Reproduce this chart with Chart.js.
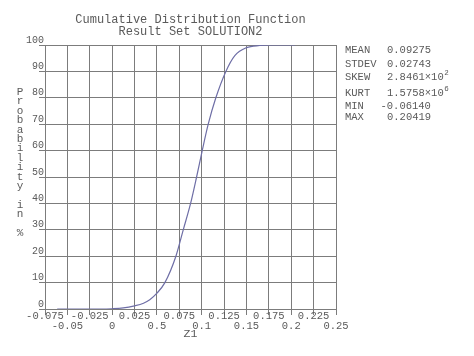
<!DOCTYPE html>
<html>
<head>
<meta charset="utf-8">
<script src="https://cdn.jsdelivr.net/npm/chart.js@4/dist/chart.umd.min.js"></script>
<style>
html,body{margin:0;padding:0;background:#fff;}
#wrap{width:474px;height:356px;position:relative;}
</style>
</head>
<body>
<div id="wrap"><canvas id="c" width="474" height="356"></canvas></div>
<script>
// ---- data ----
const zValues = [-0.0614, -0.0136, 0.0, 0.0125, 0.025, 0.035, 0.042, 0.05, 0.0589, 0.0712, 0.0794, 0.0876, 0.0943, 0.1006, 0.1073, 0.1158, 0.127, 0.137, 0.150, 0.165, 0.178, 0.2042];
const probValues = [0, 0, 0.1, 0.4, 1.2, 2.2, 3.5, 6.0, 10, 20, 30, 40, 50, 60, 70, 80, 90, 96, 99, 99.8, 100, 100];
const xTickLabels = ['-0.075','-0.05','-0.025','0','0.025','0.5','0.075','0.1','0.125','0.15','0.175','0.2','0.225','0.25'];
const yTickLabels = ['0','10','20','30','40','50','60','70','80','90','100'];
const titleLines = ['Cumulative Distribution Function', 'Result Set SOLUTION2'];
const xAxisTitle = 'Z1';
const yAxisTitle = 'Probability in %';
const statNames = ['MEAN','STDEV','SKEW','KURT','MIN','MAX'];
const statValues = ['0.09275','0.02743','2.8461×10','1.5758×10','-0.06140','0.20419'];
const statExponents = ['','','2','6','',''];

const FONT = '"Liberation Mono", "DejaVu Sans Mono", monospace';
const TXT = '#5a5a5a';
const GRID = '#7c7c7c';

const textPlugin = {
  id: 'texts',
  afterDraw(chart) {
    const ctx = chart.ctx;
    const ca = chart.chartArea;
    const cx = (ca.left + ca.right) / 2;
    ctx.save();
    ctx.fillStyle = TXT;
    ctx.textBaseline = 'middle';
    // title
    ctx.font = '12px ' + FONT;
    ctx.textAlign = 'center';
    ctx.fillText(titleLines[0], cx, 20);
    ctx.fillText(titleLines[1], cx, 31.5);
    // x axis title
    ctx.font = '11.5px ' + FONT;
    ctx.fillText(xAxisTitle, cx, 334);
    // y axis title, stacked upright
    ctx.font = '11px ' + FONT;
    const chars = Array.from(yAxisTitle);
    chars.forEach((ch, i) => ctx.fillText(ch, 20, 92 + i * 9.4));
    // stats
    ctx.textAlign = 'left';
    const rowY = [50, 64, 77, 93, 106, 117];
    statNames.forEach((n, i) => {
      ctx.font = '10.5px ' + FONT;
      ctx.fillText(n, 345, rowY[i]);
      const v = statValues[i];
      const vx = v.startsWith('-') ? 380.5 : 387;
      ctx.fillText(v, vx, rowY[i]);
      if (statExponents[i]) {
        const w = ctx.measureText(v).width;
        ctx.font = '7.5px ' + FONT;
        ctx.fillText(statExponents[i], vx + w + 0.5, rowY[i] - 4);
      }
    });
    ctx.restore();
  }
};

new Chart(document.getElementById('c'), {
  type: 'line',
  data: {
    datasets: [{
      data: zValues.map((z, i) => ({x: z, y: probValues[i]})),
      borderColor: '#6e6ea6',
      borderWidth: 1.2,
      pointRadius: 0,
      fill: false,
      cubicInterpolationMode: 'monotone'
    }]
  },
  options: {
    responsive: false,
    animation: false,
    layout: {padding: {left: 0, right: 138, top: 45, bottom: 0}},
    plugins: {legend: {display: false}, tooltip: {enabled: false}, title: {display: false}},
    scales: {
      x: {
        type: 'linear',
        min: -0.075,
        max: 0.25,
        afterFit(s) { s.height = 47; },
        afterBuildTicks(s) {
          s.ticks = xTickLabels.map((t, i) => ({value: -0.075 + i * 0.025}));
        },
        grid: {color: GRID, lineWidth: 1, tickLength: 6, drawTicks: true, tickColor: GRID},
        border: {color: GRID, width: 1},
        ticks: {
          autoSkip: false,
          maxRotation: 0,
          minRotation: 0,
          padding: -4,
          color: TXT,
          font: {family: FONT, size: 10.5, lineHeight: '10px'},
          callback: (v, i) => (i % 2 === 0 ? [xTickLabels[i], ''] : ['', xTickLabels[i]])
        }
      },
      y: {
        min: 0,
        max: 100,
        afterFit(s) { s.width = 45; },
        afterBuildTicks(s) {
          s.ticks = yTickLabels.map((t, i) => ({value: i * 10}));
        },
        grid: {color: GRID, lineWidth: 1, tickLength: 6, tickColor: GRID},
        border: {color: GRID, width: 1},
        ticks: {
          padding: -5,
          color: TXT,
          font: {family: FONT, size: 10, lineHeight: '10px'},
          callback: (v, i) => [yTickLabels[i], '']
        }
      }
    }
  },
  plugins: [textPlugin]
});
</script>
</body>
</html>
